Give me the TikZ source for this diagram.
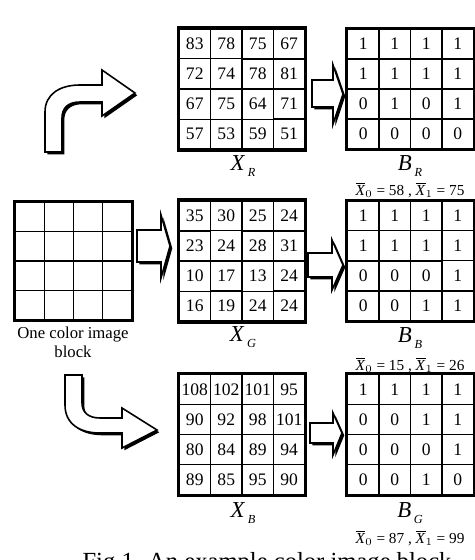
\documentclass[tikz,border=0pt]{standalone}
\usepackage{fontspec}
\setmainfont{Liberation Serif}
\usetikzlibrary{matrix,shadows}

\newcommand{\xlab}[2]{\textit{#1}\kern1.5pt\raisebox{-0.5ex}{\fontsize{7}{8}\selectfont\textit{#2}}}
\newcommand{\xmean}[1]{$\overline{\mbox{\textit{X}}}_{#1}$}

\tikzset{
  cell/.style={draw, line width=0.6pt, minimum width=0.63cm, minimum height=0.6cm, inner sep=0pt, font=\fontsize{10}{12}\selectfont},
  grid/.style={matrix of nodes, nodes in empty cells, nodes={cell}, column sep=-0.6pt, row sep=-0.6pt, inner sep=0pt},
  border/.style={line width=1.8pt},
  fatarrow/.style={draw, fill=white, line width=0.9pt, line join=miter, drop shadow={shadow xshift=1.3pt, shadow yshift=-1.3pt, opacity=1, fill=black}},
  planelabel/.style={font=\fontsize{13}{15}\selectfont},
  meanlabel/.style={font=\fontsize{8.7}{11}\selectfont},
}

\begin{document}
\begin{tikzpicture}[x=0.02cm, y=-0.02cm]
	\useasboundingbox (0,0) rectangle (474,560);

	% the colour block and its three planes
	\matrix (blk) [grid, nodes={minimum width=0.585cm, minimum height=0.59cm}] at (73.5,261) {
		 & & & \\  & & & \\  & & & \\  & & & \\};
	\matrix (XR) [grid] at (242,89) {
		83 & 78 & 75 & 67 \\ 72 & 74 & 78 & 81 \\ 67 & 75 & 64 & 71 \\ 57 & 53 & 59 & 51 \\};
	\matrix (XG) [grid] at (242,261) {
		35 & 30 & 25 & 24 \\ 23 & 24 & 28 & 31 \\ 10 & 17 & 13 & 24 \\ 16 & 19 & 24 & 24 \\};
	\matrix (XB) [grid] at (242,434.5) {
		108 & 102 & 101 & 95 \\ 90 & 92 & 98 & 101 \\ 80 & 84 & 89 & 94 \\ 89 & 85 & 95 & 90 \\};

	% bit planes
	\matrix (BR) [grid] at (410.5,89) {
		1 & 1 & 1 & 1 \\ 1 & 1 & 1 & 1 \\ 0 & 1 & 0 & 1 \\ 0 & 0 & 0 & 0 \\};
	\matrix (BB) [grid] at (410.5,261) {
		1 & 1 & 1 & 1 \\ 1 & 1 & 1 & 1 \\ 0 & 0 & 0 & 1 \\ 0 & 0 & 1 & 1 \\};
	\matrix (BG) [grid] at (410.5,434.5) {
		1 & 1 & 1 & 1 \\ 0 & 0 & 1 & 1 \\ 0 & 0 & 0 & 1 \\ 0 & 0 & 1 & 0 \\};

	\draw[border] (blk.north west) rectangle (blk.south east);
	\draw[border] (XR.north west) rectangle (XR.south east);
	\draw[border] (XG.north west) rectangle (XG.south east);
	\draw[border] (XB.north west) rectangle (XB.south east);
	\draw[border] (BR.north west) rectangle (BR.south east);
	\draw[border] (BB.north west) rectangle (BB.south east);
	\draw[border] (BG.north west) rectangle (BG.south east);

	% labels
	\node[font=\fontsize{9.5}{11}\selectfont, align=center] (lblk) at (73,342) {One color image\\block};
	\node[planelabel] (lXR) at (243,166) {\xlab{X}{R}};
	\node[planelabel] (lXG) at (243,337) {\xlab{X}{G}};
	\node[planelabel] (lXB) at (243,513) {\xlab{X}{B}};
	\node[planelabel] (lBR) at (410,166) {\xlab{B}{R}};
	\node[planelabel] (lBB) at (410,338) {\xlab{B}{B}};
	\node[planelabel] (lBG) at (410,513) {\xlab{B}{G}};
	\node[meanlabel] (mR) at (410,190) {\xmean{0} = 58 , \xmean{1} = 75};
	\node[meanlabel] (mB) at (410,365) {\xmean{0} = 15 , \xmean{1} = 26};
	\node[meanlabel] (mG) at (410,538) {\xmean{0} = 87 , \xmean{1} = 99};
	\node[font=\fontsize{14}{16}\selectfont, anchor=base] (cap) at (267,569) {Fig.1. An example color image block};

	% curved arrows
	\path[fatarrow] (45,152) -- (45,112) .. controls (45,94) and (60,85) .. (80,85) -- (102,85) -- (102,70)
		-- (135,93) -- (102,116) -- (102,102) -- (80,102) .. controls (68,102) and (62,108) .. (62,118) -- (62,152) -- cycle;
	\path[fatarrow] (65,375) -- (65,405) .. controls (65,424) and (80,433) .. (100,433) -- (122,433) -- (122,448)
		-- (157,430) -- (122,408) -- (122,418) -- (100,418) .. controls (88,418) and (82,412) .. (82,403) -- (82,375) -- cycle;

	% straight arrows
	\path[fatarrow] (312,80) -- (333,80) -- (333,65) -- (343,94) -- (333,124) -- (333,107) -- (312,107) -- cycle;
	\path[fatarrow] (137,230) -- (161,230) -- (161,215) -- (170,246) -- (161,278) -- (161,262) -- (137,262) -- cycle;
	\path[fatarrow] (308,253) -- (332,253) -- (332,240) -- (343,265) -- (332,290) -- (332,277) -- (308,277) -- cycle;
	\path[fatarrow] (310,423) -- (333,423) -- (333,413) -- (342,433) -- (333,455) -- (333,443) -- (310,443) -- cycle;
\end{tikzpicture}
\end{document}
